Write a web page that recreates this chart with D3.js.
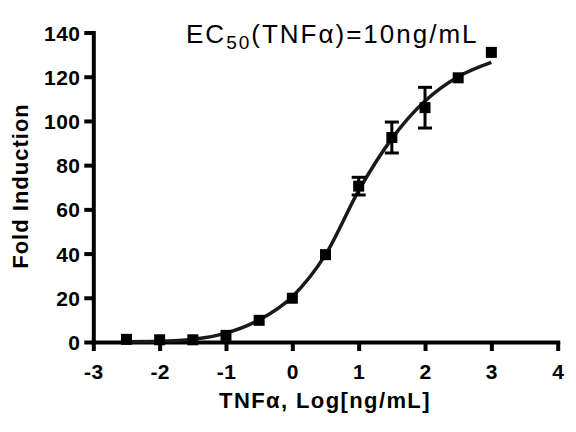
<!DOCTYPE html>
<html>
<head>
<meta charset="utf-8">
<script src="https://cdn.jsdelivr.net/npm/d3@7"></script>
<style>
  body { margin: 0; background: #fff; }
  svg text { font-family: Arial, "Liberation Sans", sans-serif; }
</style>
</head>
<body>
<svg id="chart" width="576" height="432"></svg>
<script>
// measured points (mean ± sem)
var logDose = [-2.5, -2, -1.5, -1, -0.5, 0, 0.5, 1, 1.5, 2, 2.5, 3];
var foldMean = [1.2, 1.0, 1.0, 3.0, 9.8, 19.8, 39.5, 70.5, 92.5, 106, 119.5, 131];
var foldErr = [0, 0, 0, 0.4, 0.4, 0.4, 0.4, 4, 7, 9.2, 0.4, 0];

// fitted curve
var fitX = [-2.5, -2, -1.5, -1, -0.5, 0, 0.5, 1, 1.5, 2, 2.5, 3];
var fitY = [0.1, 0.3, 1.2, 4, 10, 20.5, 39.5, 68.5, 92, 109, 120, 126.5];

var xTicks = [-3, -2, -1, 0, 1, 2, 3, 4];
var yTicks = [0, 20, 40, 60, 80, 100, 120, 140];

var svg = d3.select("#chart");
var x = d3.scaleLinear().domain([-3, 4]).range([93.3, 557.7]);
var y = d3.scaleLinear().domain([0, 140]).range([342, 32.5]);
var fmt = function(d) { return String(d); };

// axes
var gx = svg.append("g").attr("transform", "translate(0," + y(0) + ")")
  .call(d3.axisBottom(x).tickValues(xTicks).tickFormat(fmt).tickSize(9).tickSizeOuter(0).tickPadding(13));
var gy = svg.append("g").attr("transform", "translate(" + x(-3) + ",0)")
  .call(d3.axisLeft(y).tickValues(yTicks).tickFormat(fmt).tickSize(9).tickSizeOuter(0).tickPadding(4));

[gx, gy].forEach(function(g) {
  g.select(".domain").attr("stroke", "#000").attr("stroke-width", 4).attr("stroke-linecap", "square");
  g.selectAll(".tick line").attr("stroke", "#000").attr("stroke-width", 4);
  g.selectAll(".tick text")
    .attr("fill", "#000")
    .style("font-size", "21px")
    .style("font-weight", "bold")
    .style("letter-spacing", "0.4px");
});
gx.selectAll(".tick text").attr("dy", "0.7em");
gy.selectAll(".tick text").attr("dy", "0.36em");

// fit line
var line = d3.line()
  .x(function(d, i) { return x(fitX[i]); })
  .y(function(d) { return y(d); })
  .curve(d3.curveMonotoneX);
svg.append("path")
  .datum(fitY)
  .attr("fill", "none")
  .attr("stroke", "#1a1a1a")
  .attr("stroke-width", 3.5)
  .attr("d", line);

// error bars
var eb = svg.append("g").attr("stroke", "#000").attr("stroke-width", 3);
logDose.forEach(function(d, i) {
  if (foldErr[i] < 1) return;
  var cx = x(d), top = y(foldMean[i] + foldErr[i]), bot = y(foldMean[i] - foldErr[i]);
  eb.append("line").attr("x1", cx).attr("x2", cx).attr("y1", top).attr("y2", bot);
  eb.append("line").attr("x1", cx - 7).attr("x2", cx + 7).attr("y1", top).attr("y2", top);
  eb.append("line").attr("x1", cx - 7).attr("x2", cx + 7).attr("y1", bot).attr("y2", bot);
});

// markers
var sz = 11;
svg.append("g").selectAll("rect")
  .data(logDose)
  .join("rect")
  .attr("x", function(d) { return x(d) - sz / 2; })
  .attr("y", function(d, i) { return y(foldMean[i]) - sz / 2; })
  .attr("width", sz)
  .attr("height", sz)
  .attr("fill", "#000");

// annotation
var ann = svg.append("text")
  .attr("x", 186)
  .attr("y", 43)
  .attr("fill", "#000")
  .style("font-size", "26px")
  .style("letter-spacing", "2px");
ann.append("tspan").text("EC");
ann.append("tspan").attr("dy", 6).style("font-size", "19px").text("50");
ann.append("tspan").attr("dy", -6).text("(TNF\u03b1)=10ng/mL");

// axis titles
svg.append("text")
  .attr("x", 325)
  .attr("y", 408)
  .attr("text-anchor", "middle")
  .style("font-size", "22px")
  .style("font-weight", "bold")
  .style("letter-spacing", "1.4px")
  .text("TNF\u03b1, Log[ng/mL]");

svg.append("text")
  .attr("transform", "translate(28,186) rotate(-90)")
  .attr("text-anchor", "middle")
  .style("font-size", "22px")
  .style("font-weight", "bold")
  .style("letter-spacing", "1px")
  .text("Fold Induction");
</script>
</body>
</html>
